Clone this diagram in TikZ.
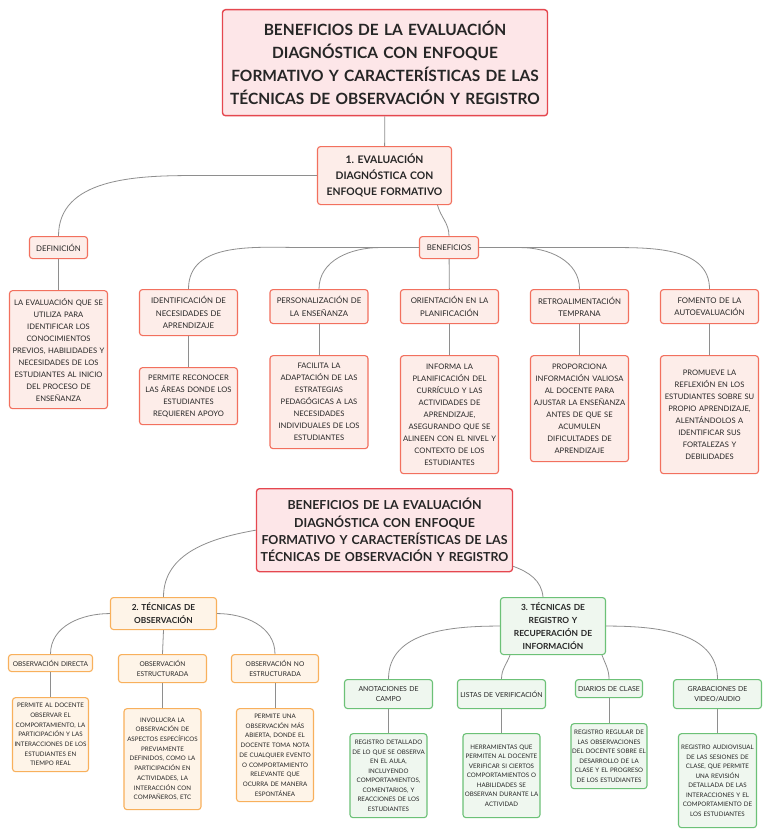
\documentclass[tikz,border=0pt]{standalone}
\usepackage{fontspec}
\setmainfont{Lato}
\frenchspacing
\usetikzlibrary{positioning}
\definecolor{ttlline}{HTML}{E5474F}
\definecolor{ttlfill}{HTML}{FDE6E8}
\definecolor{redline}{HTML}{F2705E}
\definecolor{redfill}{HTML}{FDEDE9}
\definecolor{oraline}{HTML}{F8B05C}
\definecolor{orafill}{HTML}{FEF4E8}
\definecolor{grnline}{HTML}{6CC177}
\definecolor{grnfill}{HTML}{EFF7EF}
\definecolor{linkc}{HTML}{8E8E8E}
\definecolor{textc}{HTML}{262626}

\begin{document}
\begin{tikzpicture}[x=1pt,y=-1pt,
  node distance=31pt,
  base/.style={rounded corners=3pt,align=center,inner xsep=1pt,inner ysep=2pt,line width=1.1pt,text=textc},
  ttl/.style={base,draw=ttlline,fill=ttlfill,line width=1.4pt,font=\bfseries\fontsize{15.5}{23}\selectfont,text width=323pt,minimum height=106pt},
  ttlb/.style={base,draw=ttlline,fill=ttlfill,line width=1.3pt,font=\bfseries\fontsize{12.4}{17.3}\selectfont,text width=254pt,minimum height=83pt},
  rsec/.style={base,draw=redline,fill=redfill,font=\bfseries\fontsize{10.4}{16}\selectfont,text width=132pt},
  rlbl/.style={base,draw=redline,fill=redfill,font=\fontsize{7.8}{12.3}\selectfont,text width=96pt},
  rtxt/.style={base,draw=redline,fill=redfill,font=\fontsize{7.6}{12}\selectfont,text width=96pt},
  osec/.style={base,draw=oraline,fill=orafill,font=\bfseries\fontsize{8.3}{12.8}\selectfont,text width=104pt},
  olbl/.style={base,draw=oraline,fill=orafill,font=\fontsize{6.6}{10}\selectfont,text width=86pt},
  otxt/.style={base,draw=oraline,fill=orafill,font=\fontsize{6.2}{9.7}\selectfont,text width=75pt},
  gsec/.style={base,draw=grnline,fill=grnfill,font=\bfseries\fontsize{8.4}{13}\selectfont,text width=103pt},
  glbl/.style={base,draw=grnline,fill=grnfill,font=\fontsize{6.9}{10}\selectfont,text width=86pt},
  gtxt/.style={base,draw=grnline,fill=grnfill,font=\fontsize{6.2}{9.5}\selectfont,text width=75pt},
  link/.style={draw=linkc,line width=0.8pt}
]
\useasboundingbox[fill=white] (0,0) rectangle (768,832);

% first map
\node[ttl,anchor=north] (title1) at (385,9) {BENEFICIOS DE LA EVALUACIÓN\\DIAGNÓSTICA CON ENFOQUE\\FORMATIVO Y CARACTERÍSTICAS DE LAS\\TÉCNICAS DE OBSERVACIÓN Y REGISTRO};
\node[rsec,anchor=north,minimum height=58pt] (sec1) at (384.5,146) {1. EVALUACIÓN\\DIAGNÓSTICA CON\\ENFOQUE FORMATIVO};
\node[rlbl,anchor=north,text width=56pt,minimum height=22pt] (def) at (58.5,236) {DEFINICIÓN};
\node[rlbl,anchor=north,text width=57pt,minimum height=22pt] (ben) at (449,236) {BENEFICIOS};
\node[rtxt,below=of def,minimum height=118pt] (defb) {LA EVALUACIÓN QUE SE\\UTILIZA PARA\\IDENTIFICAR LOS\\CONOCIMIENTOS\\PREVIOS, HABILIDADES Y\\NECESIDADES DE LOS\\ESTUDIANTES AL INICIO\\DEL PROCESO DE\\ENSEÑANZA};
\node[rlbl,anchor=north,minimum height=46pt] (ident) at (188.5,289) {IDENTIFICACIÓN DE\\NECESIDADES DE\\APRENDIZAJE};
\node[rlbl,anchor=north,minimum height=34pt] (pers) at (319,289) {PERSONALIZACIÓN DE\\LA ENSEÑANZA};
\node[rlbl,anchor=north,minimum height=34pt] (orient) at (449.5,289) {ORIENTACIÓN EN LA\\PLANIFICACIÓN};
\node[rlbl,anchor=north,minimum height=34pt] (retro) at (579.5,289) {RETROALIMENTACIÓN\\TEMPRANA};
\node[rlbl,anchor=north,minimum height=34pt] (fom) at (709.5,289) {FOMENTO DE LA\\AUTOEVALUACIÓN};
\node[rtxt,below=of ident,minimum height=57pt] (identb) {PERMITE RECONOCER\\LAS ÁREAS DONDE LOS\\ESTUDIANTES\\REQUIEREN APOYO};
\node[rtxt,below=of pers,minimum height=93pt] (persb) {FACILITA LA\\ADAPTACIÓN DE LAS\\ESTRATEGIAS\\PEDAGÓGICAS A LAS\\NECESIDADES\\INDIVIDUALES DE LOS\\ESTUDIANTES};
\node[rtxt,below=of orient,minimum height=118pt] (orientb) {INFORMA LA\\PLANIFICACIÓN DEL\\CURRÍCULO Y LAS\\ACTIVIDADES DE\\APRENDIZAJE,\\ASEGURANDO QUE SE\\ALINEEN CON EL NIVEL Y\\CONTEXTO DE LOS\\ESTUDIANTES};
\node[rtxt,below=of retro,minimum height=106pt] (retrob) {PROPORCIONA\\INFORMACIÓN VALIOSA\\AL DOCENTE PARA\\AJUSTAR LA ENSEÑANZA\\ANTES DE QUE SE\\ACUMULEN\\DIFICULTADES DE\\APRENDIZAJE};
\node[rtxt,below=of fom,minimum height=118pt] (fomb) {PROMUEVE LA\\REFLEXIÓN EN LOS\\ESTUDIANTES SOBRE SU\\PROPIO APRENDIZAJE,\\ALENTÁNDOLOS A\\IDENTIFICAR SUS\\FORTALEZAS Y\\DEBILIDADES};

\draw[link] (title1) -- (sec1);
\draw[link] (sec1.west) -- ++(-125,0) to[out=180,in=90] (def.north);
\draw[link] ([xshift=53pt]sec1.south) to[out=-75,in=90] (ben.north);
\draw[link] (ben.west) -- ++(-114,0) to[out=180,in=90] (ident.north);
\draw[link] (ben.west) -- ++(-39,0) to[out=180,in=90] (pers.north);
\draw[link] (ben) -- (orient);
\draw[link] (ben.east) -- ++(41,0) to[out=0,in=90] (retro.north);
\draw[link] (ben.east) -- ++(134,0) to[out=0,in=90] (fom.north);
\draw[link] (def) -- (defb);
\draw[link] (ident) -- (identb);
\draw[link] (pers) -- (persb);
\draw[link] (orient) -- (orientb);
\draw[link] (retro) -- (retrob);
\draw[link] (fom) -- (fomb);

% second map
\node[ttlb,anchor=north] (title2) at (384.5,488) {BENEFICIOS DE LA EVALUACIÓN\\DIAGNÓSTICA CON ENFOQUE\\FORMATIVO Y CARACTERÍSTICAS DE LAS\\TÉCNICAS DE OBSERVACIÓN Y REGISTRO};
\node[osec,anchor=north,minimum height=32pt] (sec2) at (163.5,597) {2. TÉCNICAS DE\\OBSERVACIÓN};
\node[olbl,anchor=north,text width=82pt,minimum height=17pt] (dir) at (50.5,654) {OBSERVACIÓN DIRECTA};
\node[olbl,anchor=north,minimum height=28pt] (est) at (162.5,654) {OBSERVACIÓN\\ESTRUCTURADA};
\node[olbl,anchor=north,text width=85pt,minimum height=28pt] (noest) at (275,654) {OBSERVACIÓN NO\\ESTRUCTURADA};
\node[otxt,below=25pt of dir,text width=74pt,minimum height=74pt] (dirb) {PERMITE AL DOCENTE\\OBSERVAR EL\\COMPORTAMIENTO, LA\\PARTICIPACIÓN Y LAS\\INTERACCIONES DE LOS\\ESTUDIANTES EN\\TIEMPO REAL};
\node[otxt,below=25pt of est,minimum height=101pt] (estb) {INVOLUCRA LA\\OBSERVACIÓN DE\\ASPECTOS ESPECÍFICOS\\PREVIAMENTE\\DEFINIDOS, COMO LA\\PARTICIPACIÓN EN\\ACTIVIDADES, LA\\INTERACCIÓN CON\\COMPAÑEROS, ETC};
\node[otxt,below=25pt of noest,minimum height=93pt] (noestb) {PERMITE UNA\\OBSERVACIÓN MÁS\\ABIERTA, DONDE EL\\DOCENTE TOMA NOTA\\DE CUALQUIER EVENTO\\O COMPORTAMIENTO\\RELEVANTE QUE\\OCURRA DE MANERA\\ESPONTÁNEA};
\node[gsec,anchor=north,minimum height=57pt] (sec3) at (553,597) {3. TÉCNICAS DE\\REGISTRO Y\\RECUPERACIÓN DE\\INFORMACIÓN};
\node[glbl,anchor=north,minimum height=29pt] (anot) at (388.5,679) {ANOTACIONES DE\\CAMPO};
\node[glbl,anchor=north,minimum height=29pt] (listas) at (501.5,679) {LISTAS DE VERIFICACIÓN};
\node[glbl,anchor=north,text width=65pt,minimum height=18pt] (diarios) at (609,679) {DIARIOS DE CLASE};
\node[glbl,anchor=north,minimum height=29pt] (grab) at (717.5,679) {GRABACIONES DE\\VIDEO/AUDIO};
\node[gtxt,below=24pt of anot,minimum height=84pt] (anotb) {REGISTRO DETALLADO\\DE LO QUE SE OBSERVA\\EN EL AULA,\\INCLUYENDO\\COMPORTAMIENTOS,\\COMENTARIOS, Y\\REACCIONES DE LOS\\ESTUDIANTES};
\node[gtxt,below=24pt of listas,minimum height=84pt] (listasb) {HERRAMIENTAS QUE\\PERMITEN AL DOCENTE\\VERIFICAR SI CIERTOS\\COMPORTAMIENTOS O\\HABILIDADES SE\\OBSERVAN DURANTE LA\\ACTIVIDAD};
\node[gtxt,below=25pt of diarios,text width=74pt,minimum height=65pt] (diariosb) {REGISTRO REGULAR DE\\LAS OBSERVACIONES\\DEL DOCENTE SOBRE EL\\DESARROLLO DE LA\\CLASE Y EL PROGRESO\\DE LOS ESTUDIANTES};
\node[gtxt,below=24pt of grab,text width=76pt,minimum height=94pt] (grabb) {REGISTRO AUDIOVISUAL\\DE LAS SESIONES DE\\CLASE, QUE PERMITE\\UNA REVISIÓN\\DETALLADA DE LAS\\INTERACCIONES Y EL\\COMPORTAMIENTO DE\\LOS ESTUDIANTES};

\draw[link] (title2.west) to[out=190,in=90] (sec2.north);
\draw[link] ([yshift=6pt]title2.south east) to[out=-20,in=95] ([xshift=-10pt]sec3.north);
\draw[link] (sec2.west) to[out=180,in=90] (dir.north);
\draw[link] (sec2.south) -- (est.north);
\draw[link] (sec2.east) to[out=0,in=90] (noest.north);
\draw[link] (dir) -- (dirb);
\draw[link] (est) -- (estb);
\draw[link] (noest) -- (noestb);
\draw[link] (sec3.west) to[out=180,in=90] (anot.north);
\draw[link] ([xshift=-43pt]sec3.south) to[out=-110,in=90] (listas.north);
\draw[link] ([xshift=49pt]sec3.south) to[out=-70,in=90] (diarios.north);
\draw[link] (sec3.east) to[out=0,in=90] (grab.north);
\draw[link] (anot) -- (anotb);
\draw[link] (listas) -- (listasb);
\draw[link] (diarios) -- (diariosb);
\draw[link] (grab) -- (grabb);
\end{tikzpicture}
\end{document}
